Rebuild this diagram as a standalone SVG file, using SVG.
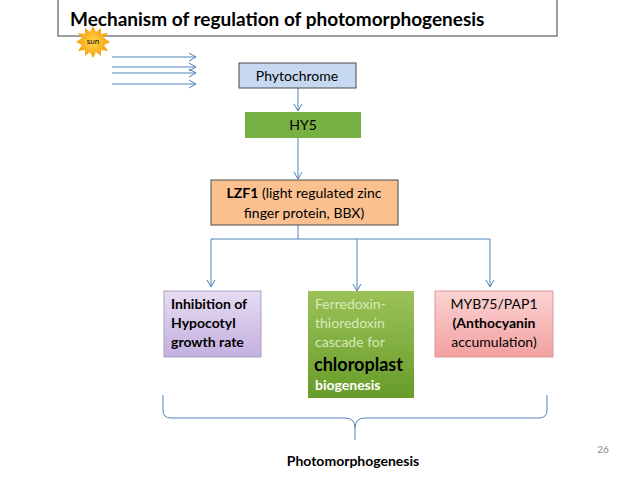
<svg xmlns="http://www.w3.org/2000/svg" width="638" height="478" viewBox="0 0 638 478">
<defs>
<marker id="ah" markerWidth="10" markerHeight="10" refX="8" refY="5" orient="auto" markerUnits="userSpaceOnUse"><path d="M1,1 L8,5 L1,9" fill="none" stroke="#4f81bd" stroke-width="1"/></marker>
<linearGradient id="gp" x1="0" y1="0" x2="0" y2="1"><stop offset="0" stop-color="#e6dcf2"/><stop offset="1" stop-color="#c3b0e0"/></linearGradient>
<linearGradient id="gg" x1="0" y1="0" x2="0" y2="1"><stop offset="0" stop-color="#9bc258"/><stop offset="1" stop-color="#679c2a"/></linearGradient>
<linearGradient id="gr" x1="0" y1="0" x2="0" y2="1"><stop offset="0" stop-color="#fbd3d3"/><stop offset="1" stop-color="#f3a0a0"/></linearGradient>
<radialGradient id="gs"><stop offset="0" stop-color="#ffd74a"/><stop offset="1" stop-color="#f59e0b"/></radialGradient>
</defs>
<style>
text{font-family:Lato,"Open Sans",sans-serif;fill:#000}
.c{stroke:#4f81bd;stroke-width:1;fill:none}
.a{marker-end:url(#ah)}
.b{font-weight:bold}
</style>
<rect width="638" height="478" fill="#fff"/>
<g id="title"><rect x="58" y="-2" width="499" height="38" fill="#fff" stroke="#7f7f7f" stroke-width="1.5"/>
<text x="70" y="26" font-size="19" class="b">Mechanism of regulation of photomorphogenesis</text></g>
<g id="sun"><polygon points="93,26 96,32 101,28 101,34 108,33 104,38 110,42 104,45 108,51 101,50 101,56 96,52 93,58 90,52 85,56 85,50 78,51 82,45 76,42 82,38 78,33 85,34 85,28 90,32" fill="url(#gs)"/><text x="93" y="44" font-size="8" text-anchor="middle" fill="#7a3b00">sun</text></g>
<g id="connectors">
<line class="c a" x1="112" y1="57" x2="196" y2="57"/>
<line class="c a" x1="112" y1="67" x2="196" y2="67"/>
<line class="c a" x1="112" y1="73" x2="196" y2="73"/>
<line class="c a" x1="112" y1="84" x2="196" y2="84"/>
<line class="c a" x1="298" y1="88" x2="298" y2="111"/>
<line class="c a" x1="298" y1="138" x2="298" y2="179"/>
<line class="c" x1="298" y1="225" x2="298" y2="239"/>
<line class="c" x1="211" y1="239" x2="490" y2="239"/>
<line class="c a" x1="211" y1="239" x2="211" y2="287"/>
<line class="c a" x1="357" y1="239" x2="357" y2="291"/>
<line class="c a" x1="490" y1="239" x2="490" y2="287"/>
<path class="c" d="M163,395 L163,410 Q163,418 171,418 L345,418 Q355,418 355,428 L355,440 M355,428 Q355,418 365,418 L539,418 Q547,418 547,410 L547,395"/>
</g>
<g id="phytochrome"><rect x="239" y="63" width="117" height="25" fill="#c6d9f1" stroke="#4a4a4a"/><text x="297" y="81" font-size="14" text-anchor="middle">Phytochrome</text></g>
<g id="hy5"><rect x="245" y="112" width="116" height="26" fill="#77b043"/><text x="303" y="130" font-size="14" text-anchor="middle">HY5</text></g>
<g id="lzf1"><rect x="211" y="180" width="187" height="45" fill="#fac090" stroke="#4a4a4a"/><text x="304" y="198" font-size="14" text-anchor="middle"><tspan class="b">LZF1</tspan> (light regulated zinc</text><text x="304" y="218" font-size="14" text-anchor="middle">finger protein, BBX)</text></g>
<g id="inhibition"><rect x="164" y="291" width="97" height="66" fill="url(#gp)" stroke="#a9a3c0"/><text x="171" y="309" font-size="14" class="b">Inhibition of</text><text x="171" y="328" font-size="14" class="b">Hypocotyl</text><text x="171" y="347" font-size="14" class="b">growth rate</text></g>
<g id="ferredoxin"><rect x="308" y="291" width="106" height="107" fill="url(#gg)"/><text x="315" y="309" font-size="14" fill="#d7eab8" style="fill:#d7eab8">Ferredoxin-</text><text x="315" y="328" font-size="14" style="fill:#d7eab8">thioredoxin</text><text x="315" y="347" font-size="14" style="fill:#d7eab8">cascade for</text><text x="314" y="371" font-size="18" class="b">chloroplast</text><text x="315" y="390" font-size="14" class="b" style="fill:#fff">biogenesis</text></g>
<g id="myb"><rect x="435" y="291" width="118" height="66" fill="url(#gr)" stroke="#d99"/><text x="494" y="309" font-size="14" text-anchor="middle">MYB75/PAP1</text><text x="494" y="328" font-size="14" text-anchor="middle" class="b">(Anthocyanin</text><text x="494" y="347" font-size="14" text-anchor="middle">accumulation)</text></g>
<g id="photo"><text x="353" y="466" font-size="14" class="b" text-anchor="middle">Photomorphogenesis</text></g>
<text x="603" y="453" font-size="10" fill="#888" style="fill:#888" text-anchor="middle">26</text>
</svg>
